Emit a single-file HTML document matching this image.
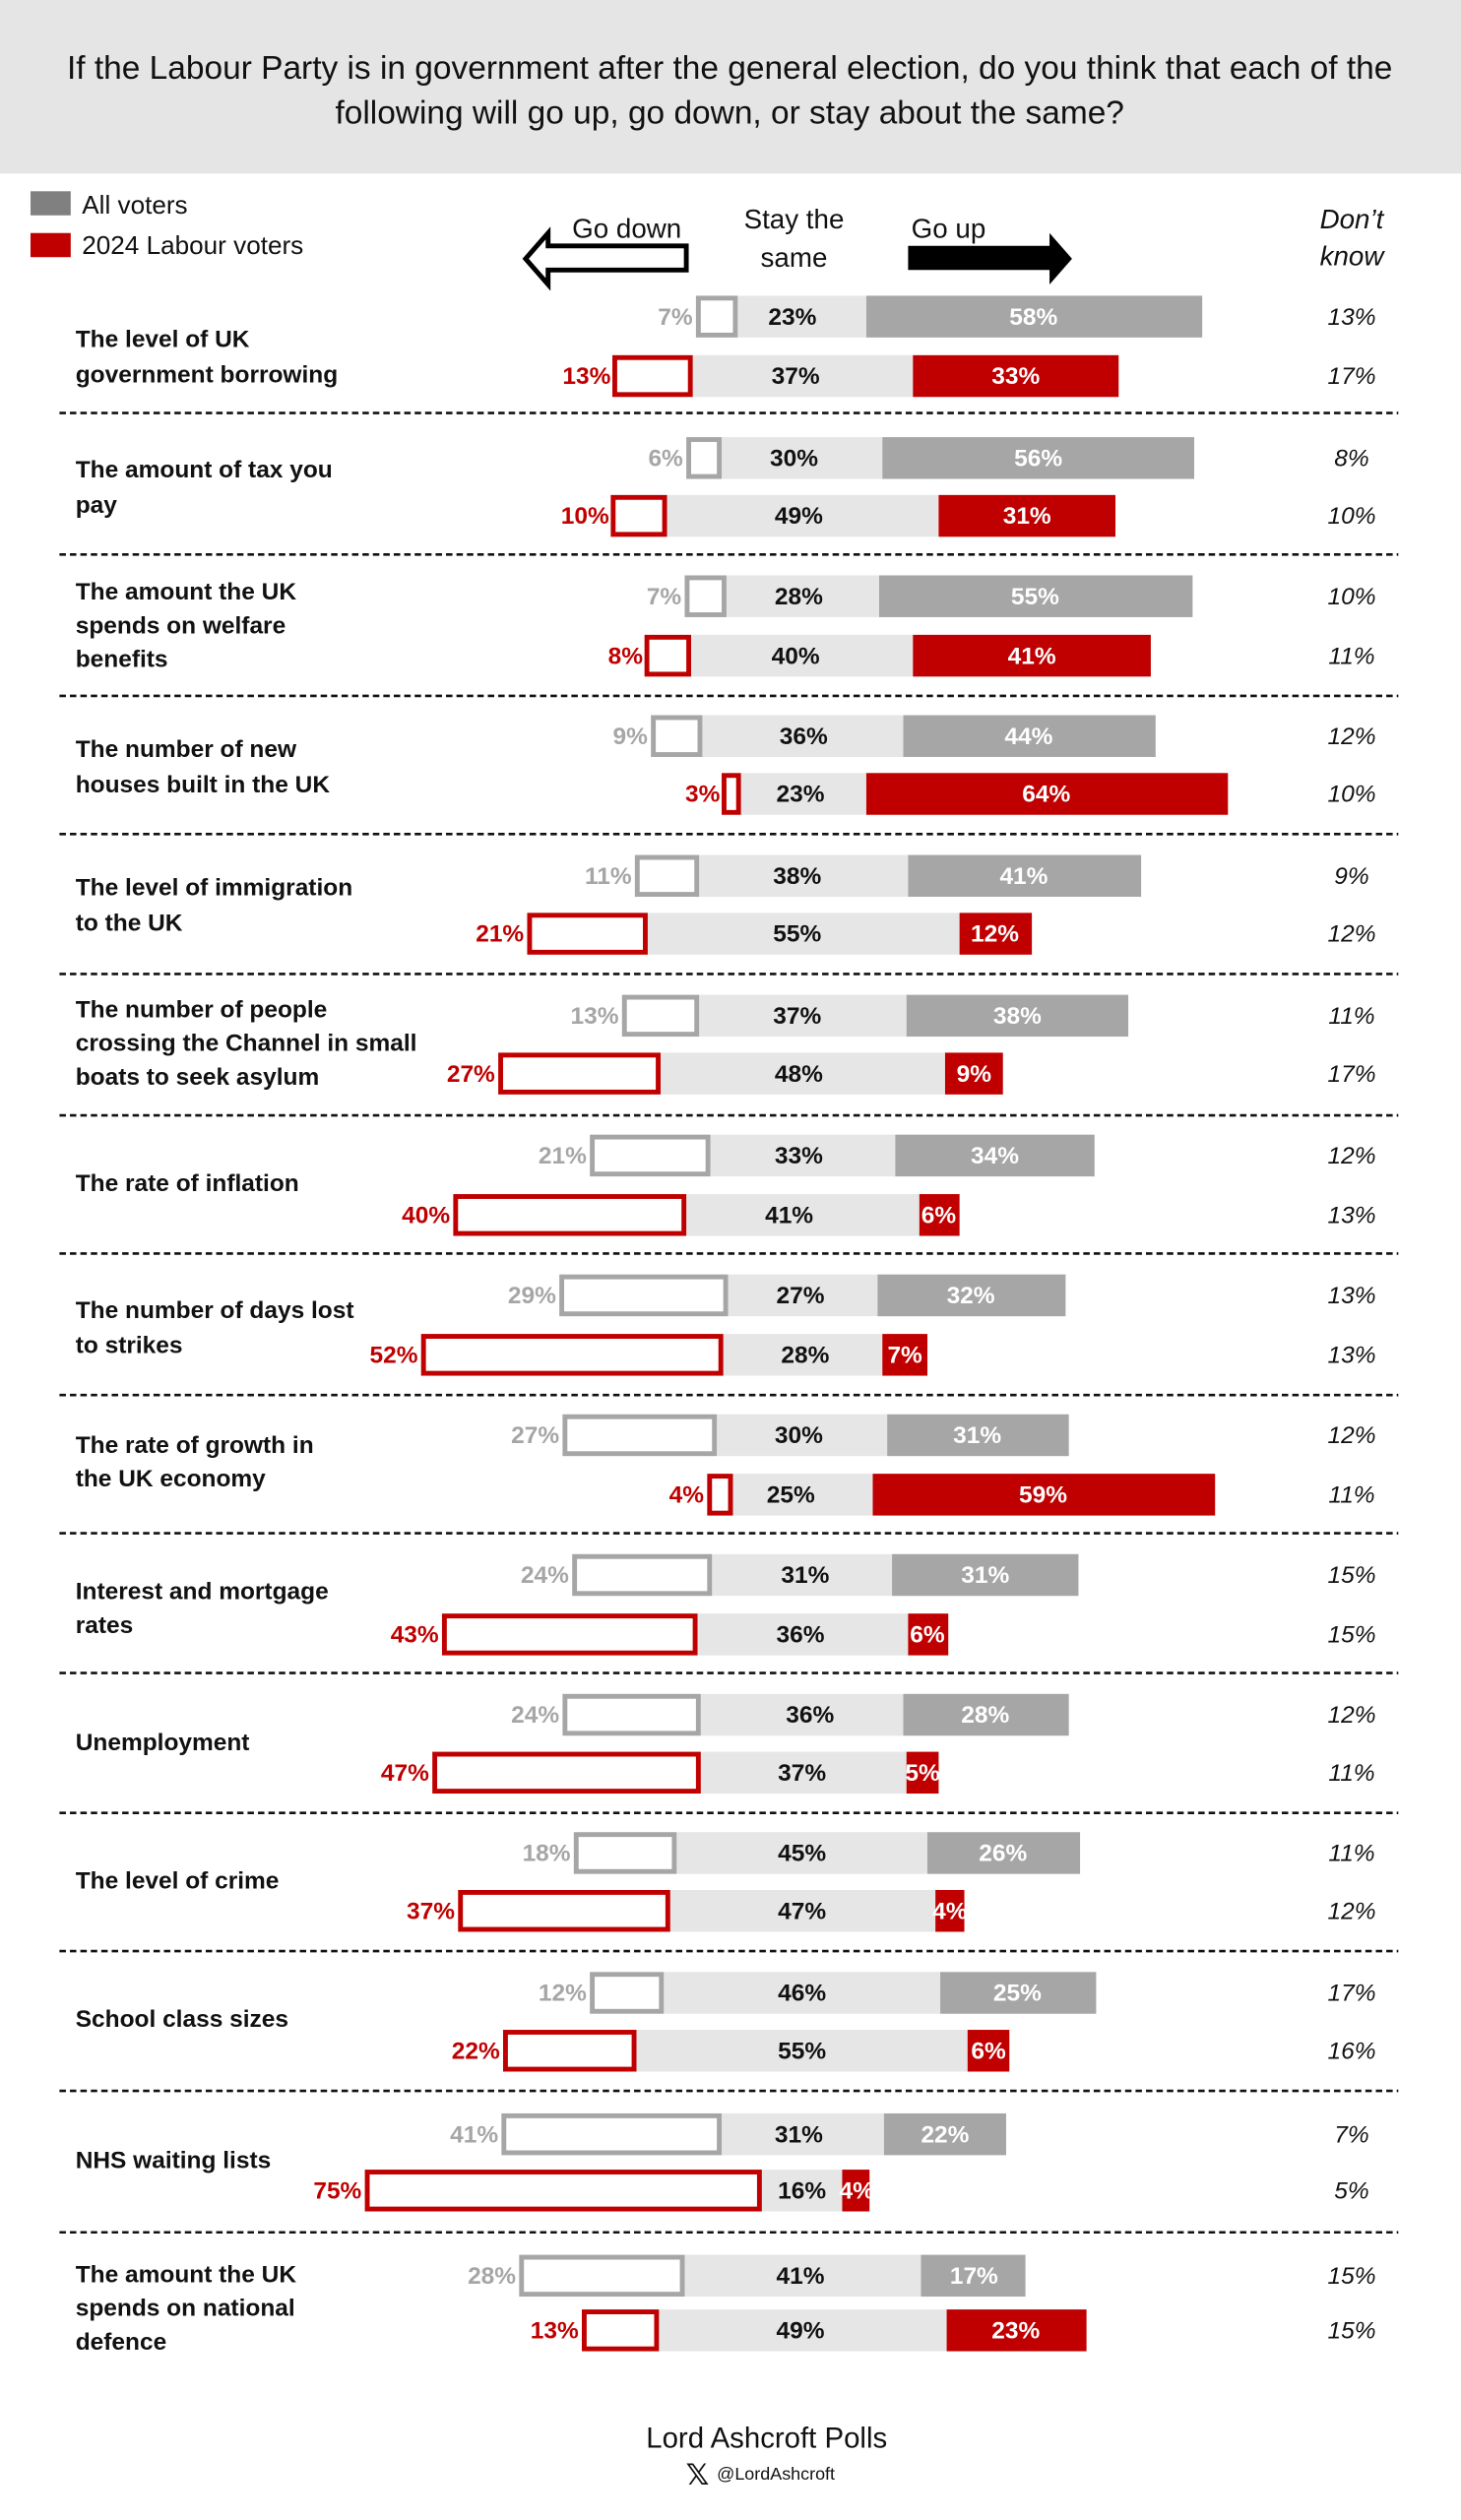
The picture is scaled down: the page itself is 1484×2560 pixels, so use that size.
<!DOCTYPE html>
<html><head><meta charset="utf-8"><style>
html,body{margin:0;padding:0;background:#fff}
svg{display:block}
text{font-family:"Liberation Sans Narrow","Liberation Sans",sans-serif}
.t{font-size:15px;font-weight:bold;fill:#111}
.s{font-size:15px;font-weight:bold;fill:#111;text-anchor:middle}
.u{font-size:15px;font-weight:bold;fill:#fff;text-anchor:middle}
.dg{font-size:15px;font-weight:bold;fill:#a6a6a6;text-anchor:end}
.dr{font-size:15px;font-weight:bold;fill:#c00000;text-anchor:end}
.dk{font-size:15px;font-style:italic;fill:#111;text-anchor:middle}
.sep{stroke:#111;stroke-width:1.6;stroke-dasharray:4,2.5}
</style></head><body>
<svg width="1484" height="2560" viewBox="0 0 909 1568" preserveAspectRatio="none" xmlns="http://www.w3.org/2000/svg">
<rect x="0" y="0" width="909" height="108" fill="#e6e5e6"/>
<text x="454" y="49" text-anchor="middle" style="font-family:'Liberation Sans',sans-serif;font-size:20.5px;fill:#111">If the Labour Party is in government after the general election, do you think that each of the</text>
<text x="454" y="77" text-anchor="middle" style="font-family:'Liberation Sans',sans-serif;font-size:20.5px;fill:#111">following will go up, go down, or stay about the same?</text>
<rect x="19" y="119" width="25" height="15" fill="#808080"/>
<text x="51" y="133" style="font-size:16px;fill:#111">All voters</text>
<rect x="19" y="145" width="25" height="15" fill="#c00000"/>
<text x="51" y="158" style="font-size:16px;fill:#111">2024 Labour voters</text>
<text x="390" y="148" text-anchor="middle" style="font-size:17px;fill:#111">Go down</text>
<text x="494" y="142" text-anchor="middle" style="font-size:17px;fill:#111">Stay the</text>
<text x="494" y="166" text-anchor="middle" style="font-size:17px;fill:#111">same</text>
<text x="567" y="148" style="font-size:17px;fill:#111">Go up</text>
<text x="841" y="142" text-anchor="middle" style="font-size:17px;font-style:italic;fill:#111">Don’t</text>
<text x="841" y="165" text-anchor="middle" style="font-size:17px;font-style:italic;fill:#111">know</text>
<polygon points="327,161 341,145 341,153 427,153 427,168 341,168 341,177" fill="#fff" stroke="#000" stroke-width="3"/>
<polygon points="667,161 653,145 653,153 565,153 565,168 653,168 653,177" fill="#000"/>

<g id="rows">
<rect x="459" y="184" width="80" height="26" fill="#e6e6e6"/><rect x="539" y="184" width="209" height="26" fill="#a6a6a6"/><rect x="434.5" y="185.5" width="23" height="23" fill="#fff" stroke="#a6a6a6" stroke-width="3"/>
<text class="dg" x="431" y="202">7%</text><text class="s" x="493" y="202">23%</text><text class="u" x="643" y="202">58%</text><text class="dk" x="841" y="202">13%</text>
<rect x="431" y="221" width="137" height="26" fill="#e6e6e6"/><rect x="568" y="221" width="128" height="26" fill="#c00000"/><rect x="382.5" y="222.5" width="47" height="23" fill="#fff" stroke="#c00000" stroke-width="3"/>
<text class="dr" x="380" y="239">13%</text><text class="s" x="495" y="239">37%</text><text class="u" x="632" y="239">33%</text><text class="dk" x="841" y="239">17%</text>
<text class="t" x="47" y="216">The level of UK</text><text class="t" x="47" y="238">government borrowing</text>
<line class="sep" x1="37" y1="257" x2="870" y2="257"/>
<rect x="449" y="272" width="100" height="26" fill="#e6e6e6"/><rect x="549" y="272" width="194" height="26" fill="#a6a6a6"/><rect x="428.5" y="273.5" width="19" height="23" fill="#fff" stroke="#a6a6a6" stroke-width="3"/>
<text class="dg" x="425" y="290">6%</text><text class="s" x="494" y="290">30%</text><text class="u" x="646" y="290">56%</text><text class="dk" x="841" y="290">8%</text>
<rect x="415" y="308" width="169" height="26" fill="#e6e6e6"/><rect x="584" y="308" width="110" height="26" fill="#c00000"/><rect x="381.5" y="309.5" width="32" height="23" fill="#fff" stroke="#c00000" stroke-width="3"/>
<text class="dr" x="379" y="326">10%</text><text class="s" x="497" y="326">49%</text><text class="u" x="639" y="326">31%</text><text class="dk" x="841" y="326">10%</text>
<text class="t" x="47" y="297">The amount of tax you</text><text class="t" x="47" y="319">pay</text>
<line class="sep" x1="37" y1="345" x2="870" y2="345"/>
<rect x="452" y="358" width="95" height="26" fill="#e6e6e6"/><rect x="547" y="358" width="195" height="26" fill="#a6a6a6"/><rect x="427.5" y="359.5" width="23" height="23" fill="#fff" stroke="#a6a6a6" stroke-width="3"/>
<text class="dg" x="424" y="376">7%</text><text class="s" x="497" y="376">28%</text><text class="u" x="644" y="376">55%</text><text class="dk" x="841" y="376">10%</text>
<rect x="430" y="395" width="138" height="26" fill="#e6e6e6"/><rect x="568" y="395" width="148" height="26" fill="#c00000"/><rect x="402.5" y="396.5" width="26" height="23" fill="#fff" stroke="#c00000" stroke-width="3"/>
<text class="dr" x="400" y="413">8%</text><text class="s" x="495" y="413">40%</text><text class="u" x="642" y="413">41%</text><text class="dk" x="841" y="413">11%</text>
<text class="t" x="47" y="373">The amount the UK</text><text class="t" x="47" y="394">spends on welfare</text><text class="t" x="47" y="415">benefits</text>
<line class="sep" x1="37" y1="433" x2="870" y2="433"/>
<rect x="437" y="445" width="125" height="26" fill="#e6e6e6"/><rect x="562" y="445" width="157" height="26" fill="#a6a6a6"/><rect x="406.5" y="446.5" width="29" height="23" fill="#fff" stroke="#a6a6a6" stroke-width="3"/>
<text class="dg" x="403" y="463">9%</text><text class="s" x="500" y="463">36%</text><text class="u" x="640" y="463">44%</text><text class="dk" x="841" y="463">12%</text>
<rect x="461" y="481" width="78" height="26" fill="#e6e6e6"/><rect x="539" y="481" width="225" height="26" fill="#c00000"/><rect x="450.5" y="482.5" width="9" height="23" fill="#fff" stroke="#c00000" stroke-width="3"/>
<text class="dr" x="448" y="499">3%</text><text class="s" x="498" y="499">23%</text><text class="u" x="651" y="499">64%</text><text class="dk" x="841" y="499">10%</text>
<text class="t" x="47" y="471">The number of new</text><text class="t" x="47" y="493">houses built in the UK</text>
<line class="sep" x1="37" y1="519" x2="870" y2="519"/>
<rect x="435" y="532" width="130" height="26" fill="#e6e6e6"/><rect x="565" y="532" width="145" height="26" fill="#a6a6a6"/><rect x="396.5" y="533.5" width="37" height="23" fill="#fff" stroke="#a6a6a6" stroke-width="3"/>
<text class="dg" x="393" y="550">11%</text><text class="s" x="496" y="550">38%</text><text class="u" x="637" y="550">41%</text><text class="dk" x="841" y="550">9%</text>
<rect x="403" y="568" width="194" height="26" fill="#e6e6e6"/><rect x="597" y="568" width="45" height="26" fill="#c00000"/><rect x="329.5" y="569.5" width="72" height="23" fill="#fff" stroke="#c00000" stroke-width="3"/>
<text class="dr" x="326" y="586">21%</text><text class="s" x="496" y="586">55%</text><text class="u" x="619" y="586">12%</text><text class="dk" x="841" y="586">12%</text>
<text class="t" x="47" y="557">The level of immigration</text><text class="t" x="47" y="579">to the UK</text>
<line class="sep" x1="37" y1="606" x2="870" y2="606"/>
<rect x="435" y="619" width="129" height="26" fill="#e6e6e6"/><rect x="564" y="619" width="138" height="26" fill="#a6a6a6"/><rect x="388.5" y="620.5" width="45" height="23" fill="#fff" stroke="#a6a6a6" stroke-width="3"/>
<text class="dg" x="385" y="637">13%</text><text class="s" x="496" y="637">37%</text><text class="u" x="633" y="637">38%</text><text class="dk" x="841" y="637">11%</text>
<rect x="411" y="655" width="177" height="26" fill="#e6e6e6"/><rect x="588" y="655" width="36" height="26" fill="#c00000"/><rect x="311.5" y="656.5" width="98" height="23" fill="#fff" stroke="#c00000" stroke-width="3"/>
<text class="dr" x="308" y="673">27%</text><text class="s" x="497" y="673">48%</text><text class="u" x="606" y="673">9%</text><text class="dk" x="841" y="673">17%</text>
<text class="t" x="47" y="633">The number of people</text><text class="t" x="47" y="654">crossing the Channel in small</text><text class="t" x="47" y="675">boats to seek asylum</text>
<line class="sep" x1="37" y1="694" x2="870" y2="694"/>
<rect x="442" y="706" width="115" height="26" fill="#e6e6e6"/><rect x="557" y="706" width="124" height="26" fill="#a6a6a6"/><rect x="368.5" y="707.5" width="72" height="23" fill="#fff" stroke="#a6a6a6" stroke-width="3"/>
<text class="dg" x="365" y="724">21%</text><text class="s" x="497" y="724">33%</text><text class="u" x="619" y="724">34%</text><text class="dk" x="841" y="724">12%</text>
<rect x="427" y="743" width="145" height="26" fill="#e6e6e6"/><rect x="572" y="743" width="25" height="26" fill="#c00000"/><rect x="283.5" y="744.5" width="142" height="23" fill="#fff" stroke="#c00000" stroke-width="3"/>
<text class="dr" x="280" y="761">40%</text><text class="s" x="491" y="761">41%</text><text class="u" x="584" y="761">6%</text><text class="dk" x="841" y="761">13%</text>
<text class="t" x="47" y="741">The rate of inflation</text>
<line class="sep" x1="37" y1="780" x2="870" y2="780"/>
<rect x="453" y="793" width="93" height="26" fill="#e6e6e6"/><rect x="546" y="793" width="117" height="26" fill="#a6a6a6"/><rect x="349.5" y="794.5" width="102" height="23" fill="#fff" stroke="#a6a6a6" stroke-width="3"/>
<text class="dg" x="346" y="811">29%</text><text class="s" x="498" y="811">27%</text><text class="u" x="604" y="811">32%</text><text class="dk" x="841" y="811">13%</text>
<rect x="450" y="830" width="99" height="26" fill="#e6e6e6"/><rect x="549" y="830" width="28" height="26" fill="#c00000"/><rect x="263.5" y="831.5" width="185" height="23" fill="#fff" stroke="#c00000" stroke-width="3"/>
<text class="dr" x="260" y="848">52%</text><text class="s" x="501" y="848">28%</text><text class="u" x="563" y="848">7%</text><text class="dk" x="841" y="848">13%</text>
<text class="t" x="47" y="820">The number of days lost</text><text class="t" x="47" y="842">to strikes</text>
<line class="sep" x1="37" y1="868" x2="870" y2="868"/>
<rect x="446" y="880" width="106" height="26" fill="#e6e6e6"/><rect x="552" y="880" width="113" height="26" fill="#a6a6a6"/><rect x="351.5" y="881.5" width="93" height="23" fill="#fff" stroke="#a6a6a6" stroke-width="3"/>
<text class="dg" x="348" y="898">27%</text><text class="s" x="497" y="898">30%</text><text class="u" x="608" y="898">31%</text><text class="dk" x="841" y="898">12%</text>
<rect x="456" y="917" width="87" height="26" fill="#e6e6e6"/><rect x="543" y="917" width="213" height="26" fill="#c00000"/><rect x="441.5" y="918.5" width="13" height="23" fill="#fff" stroke="#c00000" stroke-width="3"/>
<text class="dr" x="438" y="935">4%</text><text class="s" x="492" y="935">25%</text><text class="u" x="649" y="935">59%</text><text class="dk" x="841" y="935">11%</text>
<text class="t" x="47" y="904">The rate of growth in</text><text class="t" x="47" y="925">the UK economy</text>
<line class="sep" x1="37" y1="954" x2="870" y2="954"/>
<rect x="443" y="967" width="112" height="26" fill="#e6e6e6"/><rect x="555" y="967" width="116" height="26" fill="#a6a6a6"/><rect x="357.5" y="968.5" width="84" height="23" fill="#fff" stroke="#a6a6a6" stroke-width="3"/>
<text class="dg" x="354" y="985">24%</text><text class="s" x="501" y="985">31%</text><text class="u" x="613" y="985">31%</text><text class="dk" x="841" y="985">15%</text>
<rect x="434" y="1004" width="131" height="26" fill="#e6e6e6"/><rect x="565" y="1004" width="25" height="26" fill="#c00000"/><rect x="276.5" y="1005.5" width="156" height="23" fill="#fff" stroke="#c00000" stroke-width="3"/>
<text class="dr" x="273" y="1022">43%</text><text class="s" x="498" y="1022">36%</text><text class="u" x="577" y="1022">6%</text><text class="dk" x="841" y="1022">15%</text>
<text class="t" x="47" y="995">Interest and mortgage</text><text class="t" x="47" y="1016">rates</text>
<line class="sep" x1="37" y1="1041" x2="870" y2="1041"/>
<rect x="436" y="1054" width="126" height="26" fill="#e6e6e6"/><rect x="562" y="1054" width="103" height="26" fill="#a6a6a6"/><rect x="351.5" y="1055.5" width="83" height="23" fill="#fff" stroke="#a6a6a6" stroke-width="3"/>
<text class="dg" x="348" y="1072">24%</text><text class="s" x="504" y="1072">36%</text><text class="u" x="613" y="1072">28%</text><text class="dk" x="841" y="1072">12%</text>
<rect x="436" y="1090" width="128" height="26" fill="#e6e6e6"/><rect x="564" y="1090" width="20" height="26" fill="#c00000"/><rect x="270.5" y="1091.5" width="164" height="23" fill="#fff" stroke="#c00000" stroke-width="3"/>
<text class="dr" x="267" y="1108">47%</text><text class="s" x="499" y="1108">37%</text><text class="u" x="574" y="1108">5%</text><text class="dk" x="841" y="1108">11%</text>
<text class="t" x="47" y="1089">Unemployment</text>
<line class="sep" x1="37" y1="1128" x2="870" y2="1128"/>
<rect x="421" y="1140" width="156" height="26" fill="#e6e6e6"/><rect x="577" y="1140" width="95" height="26" fill="#a6a6a6"/><rect x="358.5" y="1141.5" width="61" height="23" fill="#fff" stroke="#a6a6a6" stroke-width="3"/>
<text class="dg" x="355" y="1158">18%</text><text class="s" x="499" y="1158">45%</text><text class="u" x="624" y="1158">26%</text><text class="dk" x="841" y="1158">11%</text>
<rect x="417" y="1176" width="165" height="26" fill="#e6e6e6"/><rect x="582" y="1176" width="18" height="26" fill="#c00000"/><rect x="286.5" y="1177.5" width="129" height="23" fill="#fff" stroke="#c00000" stroke-width="3"/>
<text class="dr" x="283" y="1194">37%</text><text class="s" x="499" y="1194">47%</text><text class="u" x="591" y="1194">4%</text><text class="dk" x="841" y="1194">12%</text>
<text class="t" x="47" y="1175">The level of crime</text>
<line class="sep" x1="37" y1="1214" x2="870" y2="1214"/>
<rect x="413" y="1227" width="172" height="26" fill="#e6e6e6"/><rect x="585" y="1227" width="97" height="26" fill="#a6a6a6"/><rect x="368.5" y="1228.5" width="43" height="23" fill="#fff" stroke="#a6a6a6" stroke-width="3"/>
<text class="dg" x="365" y="1245">12%</text><text class="s" x="499" y="1245">46%</text><text class="u" x="633" y="1245">25%</text><text class="dk" x="841" y="1245">17%</text>
<rect x="396" y="1263" width="206" height="26" fill="#e6e6e6"/><rect x="602" y="1263" width="26" height="26" fill="#c00000"/><rect x="314.5" y="1264.5" width="80" height="23" fill="#fff" stroke="#c00000" stroke-width="3"/>
<text class="dr" x="311" y="1281">22%</text><text class="s" x="499" y="1281">55%</text><text class="u" x="615" y="1281">6%</text><text class="dk" x="841" y="1281">16%</text>
<text class="t" x="47" y="1261">School class sizes</text>
<line class="sep" x1="37" y1="1301" x2="870" y2="1301"/>
<rect x="449" y="1315" width="101" height="26" fill="#e6e6e6"/><rect x="550" y="1315" width="76" height="26" fill="#a6a6a6"/><rect x="313.5" y="1316.5" width="134" height="23" fill="#fff" stroke="#a6a6a6" stroke-width="3"/>
<text class="dg" x="310" y="1333">41%</text><text class="s" x="497" y="1333">31%</text><text class="u" x="588" y="1333">22%</text><text class="dk" x="841" y="1333">7%</text>
<rect x="474" y="1350" width="50" height="26" fill="#e6e6e6"/><rect x="524" y="1350" width="17" height="26" fill="#c00000"/><rect x="228.5" y="1351.5" width="244" height="23" fill="#fff" stroke="#c00000" stroke-width="3"/>
<text class="dr" x="225" y="1368">75%</text><text class="s" x="499" y="1368">16%</text><text class="u" x="533" y="1368">4%</text><text class="dk" x="841" y="1368">5%</text>
<text class="t" x="47" y="1349">NHS waiting lists</text>
<line class="sep" x1="37" y1="1389" x2="870" y2="1389"/>
<rect x="426" y="1403" width="147" height="26" fill="#e6e6e6"/><rect x="573" y="1403" width="65" height="26" fill="#a6a6a6"/><rect x="324.5" y="1404.5" width="100" height="23" fill="#fff" stroke="#a6a6a6" stroke-width="3"/>
<text class="dg" x="321" y="1421">28%</text><text class="s" x="498" y="1421">41%</text><text class="u" x="606" y="1421">17%</text><text class="dk" x="841" y="1421">15%</text>
<rect x="410" y="1437" width="179" height="26" fill="#e6e6e6"/><rect x="589" y="1437" width="87" height="26" fill="#c00000"/><rect x="363.5" y="1438.5" width="45" height="23" fill="#fff" stroke="#c00000" stroke-width="3"/>
<text class="dr" x="360" y="1455">13%</text><text class="s" x="498" y="1455">49%</text><text class="u" x="632" y="1455">23%</text><text class="dk" x="841" y="1455">15%</text>
<text class="t" x="47" y="1420">The amount the UK</text><text class="t" x="47" y="1441">spends on national</text><text class="t" x="47" y="1462">defence</text>
</g>

<text x="477" y="1523" text-anchor="middle" style="font-family:'Liberation Sans',sans-serif;font-size:18px;fill:#111">Lord Ashcroft Polls</text>
<text x="434" y="1546" text-anchor="middle" style="font-family:'DejaVu Sans',sans-serif;font-size:18px;font-weight:bold;fill:#111">𝕏</text>
<text x="446" y="1543" style="font-family:'Liberation Sans',sans-serif;font-size:11px;fill:#111">@LordAshcroft</text>
</svg>
</body></html>
